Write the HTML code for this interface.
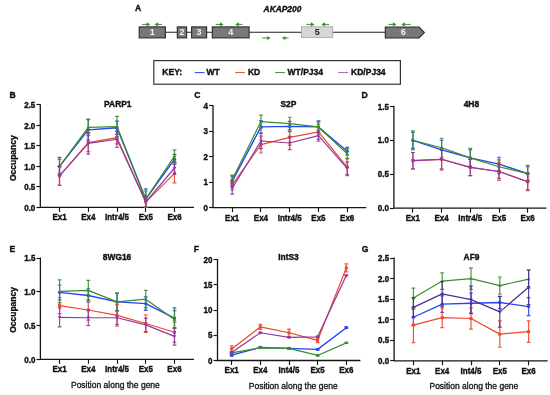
<!DOCTYPE html>
<html><head><meta charset="utf-8"><style>
html,body{margin:0;padding:0;background:#fff;}
svg{display:block;font-family:"Liberation Sans", sans-serif;will-change:transform;}
</style></head><body>
<svg width="550" height="395" viewBox="0 0 550 395">
<rect width="550" height="395" fill="#fff"/>
<text x="135.00" y="10.90" font-size="8.6" font-weight="bold" text-anchor="start" fill="#111" stroke="#111" stroke-width="0.36"  >A</text>
<text x="263.60" y="11.70" font-size="8.4" font-weight="bold" text-anchor="start" fill="#111" stroke="#111" stroke-width="0.36" font-style="italic" >AKAP200</text>
<line x1="165" y1="32.3" x2="386" y2="32.3" stroke="#222" stroke-width="1.1"/>
<rect x="139.20" y="26.9" width="26.20" height="11.0" fill="#787878" stroke="#2a2a2a" stroke-width="1.1"/>
<text x="152.30" y="35.20" font-size="9.0" font-weight="bold" text-anchor="middle" fill="#f4f4f4"   >1</text>
<rect x="177.30" y="26.9" width="9.30" height="11.0" fill="#787878" stroke="#2a2a2a" stroke-width="1.1"/>
<text x="181.95" y="35.20" font-size="9.0" font-weight="bold" text-anchor="middle" fill="#f4f4f4"   >2</text>
<rect x="191.60" y="26.9" width="15.00" height="11.0" fill="#787878" stroke="#2a2a2a" stroke-width="1.1"/>
<text x="199.10" y="35.20" font-size="9.0" font-weight="bold" text-anchor="middle" fill="#f4f4f4"   >3</text>
<rect x="212.30" y="26.9" width="36.80" height="11.0" fill="#787878" stroke="#2a2a2a" stroke-width="1.1"/>
<text x="230.70" y="35.20" font-size="9.0" font-weight="bold" text-anchor="middle" fill="#f4f4f4"   >4</text>
<rect x="301.5" y="26.8" width="31.2" height="10.6" fill="#d6d6d6" stroke="#a8a8a8" stroke-width="0.9"/>
<text x="317.20" y="35.10" font-size="9.0" font-weight="bold" text-anchor="middle" fill="#222"   >5</text>
<path d="M385.3 27.0 H419.0 L424.4 32.5 L419.0 38.0 H385.3 Z" fill="#787878" stroke="#2a2a2a" stroke-width="1.1" stroke-linejoin="miter"/>
<text x="403.30" y="35.20" font-size="9.0" font-weight="bold" text-anchor="middle" fill="#f4f4f4"   >6</text>
<path d="M142.10 24.40 H147.70" stroke="#3b8c2f" stroke-width="1.0"/>
<path d="M146.60 22.30 L150.20 24.40 L146.60 26.50 Z" fill="#3b8c2f"/>
<path d="M157.00 24.40 H162.00" stroke="#3b8c2f" stroke-width="1.0"/>
<path d="M158.10 22.30 L154.50 24.40 L158.10 26.50 Z" fill="#3b8c2f"/>
<path d="M215.70 24.40 H221.10" stroke="#3b8c2f" stroke-width="1.0"/>
<path d="M220.00 22.30 L223.60 24.40 L220.00 26.50 Z" fill="#3b8c2f"/>
<path d="M237.70 24.40 H242.50" stroke="#3b8c2f" stroke-width="1.0"/>
<path d="M238.80 22.30 L235.20 24.40 L238.80 26.50 Z" fill="#3b8c2f"/>
<path d="M306.40 24.40 H312.00" stroke="#3b8c2f" stroke-width="1.0"/>
<path d="M310.90 22.30 L314.50 24.40 L310.90 26.50 Z" fill="#3b8c2f"/>
<path d="M323.90 24.40 H329.10" stroke="#3b8c2f" stroke-width="1.0"/>
<path d="M325.00 22.30 L321.40 24.40 L325.00 26.50 Z" fill="#3b8c2f"/>
<path d="M388.50 24.40 H394.00" stroke="#3b8c2f" stroke-width="1.0"/>
<path d="M392.90 22.30 L396.50 24.40 L392.90 26.50 Z" fill="#3b8c2f"/>
<path d="M403.70 24.40 H410.70" stroke="#3b8c2f" stroke-width="1.0"/>
<path d="M404.80 22.30 L401.20 24.40 L404.80 26.50 Z" fill="#3b8c2f"/>
<path d="M262.30 38.00 H268.20" stroke="#3b8c2f" stroke-width="1.0"/>
<path d="M267.10 35.90 L270.70 38.00 L267.10 40.10 Z" fill="#3b8c2f"/>
<path d="M284.30 38.00 H288.60" stroke="#3b8c2f" stroke-width="1.0"/>
<path d="M285.40 35.90 L281.80 38.00 L285.40 40.10 Z" fill="#3b8c2f"/>
<rect x="153.8" y="60.6" width="246.6" height="23.6" fill="none" stroke="#333" stroke-width="1.2"/>
<text x="162.30" y="75.40" font-size="8.6" font-weight="bold" text-anchor="start" fill="#111" stroke="#111" stroke-width="0.36"  >KEY:</text>
<line x1="194.8" y1="72.6" x2="204.5" y2="72.6" stroke="#2447ee" stroke-width="1.0"/>
<text x="206.60" y="75.40" font-size="8.5" font-weight="bold" text-anchor="start" fill="#111" stroke="#111" stroke-width="0.36"  >WT</text>
<line x1="235.2" y1="72.6" x2="244.9" y2="72.6" stroke="#f0452c" stroke-width="1.0"/>
<text x="247.90" y="75.40" font-size="8.5" font-weight="bold" text-anchor="start" fill="#111" stroke="#111" stroke-width="0.36"  >KD</text>
<line x1="275.2" y1="72.6" x2="284.9" y2="72.6" stroke="#3b8c2f" stroke-width="1.0"/>
<text x="287.60" y="75.40" font-size="8.5" font-weight="bold" text-anchor="start" fill="#111" stroke="#111" stroke-width="0.36"  >WT/PJ34</text>
<line x1="338.2" y1="72.6" x2="348.1" y2="72.6" stroke="#a460c0" stroke-width="1.0"/>
<text x="351.10" y="75.40" font-size="8.5" font-weight="bold" text-anchor="start" fill="#111" stroke="#111" stroke-width="0.36"  >KD/PJ34</text>
<text x="9.60" y="98.00" font-size="8.6" font-weight="bold" text-anchor="start" fill="#111" stroke="#111" stroke-width="0.36"  >B</text>
<text transform="translate(117.80 107.40) scale(1 1.08)" font-size="8.4" font-weight="bold" text-anchor="middle" fill="#111" stroke="#111" stroke-width="0.36"  >PARP1</text>
<path d="M40.30 104.25 V207.40 H194.00" fill="none" stroke="#151515" stroke-width="1.3"/>
<line x1="36.40" y1="207.50" x2="40.30" y2="207.50" stroke="#151515" stroke-width="1.15"/>
<text transform="translate(35.30 210.60) scale(1 1.1)" font-size="8.0" font-weight="bold" text-anchor="end" fill="#111" stroke="#111" stroke-width="0.36"  >0.0</text>
<line x1="36.40" y1="186.50" x2="40.30" y2="186.50" stroke="#151515" stroke-width="1.15"/>
<text transform="translate(35.30 190.08) scale(1 1.1)" font-size="8.0" font-weight="bold" text-anchor="end" fill="#111" stroke="#111" stroke-width="0.36"  >0.5</text>
<line x1="36.40" y1="166.50" x2="40.30" y2="166.50" stroke="#151515" stroke-width="1.15"/>
<text transform="translate(35.30 169.56) scale(1 1.1)" font-size="8.0" font-weight="bold" text-anchor="end" fill="#111" stroke="#111" stroke-width="0.36"  >1.0</text>
<line x1="36.40" y1="145.50" x2="40.30" y2="145.50" stroke="#151515" stroke-width="1.15"/>
<text transform="translate(35.30 149.04) scale(1 1.1)" font-size="8.0" font-weight="bold" text-anchor="end" fill="#111" stroke="#111" stroke-width="0.36"  >1.5</text>
<line x1="36.40" y1="125.50" x2="40.30" y2="125.50" stroke="#151515" stroke-width="1.15"/>
<text transform="translate(35.30 128.52) scale(1 1.1)" font-size="8.0" font-weight="bold" text-anchor="end" fill="#111" stroke="#111" stroke-width="0.36"  >2.0</text>
<line x1="36.40" y1="104.50" x2="40.30" y2="104.50" stroke="#151515" stroke-width="1.15"/>
<text transform="translate(35.30 108.00) scale(1 1.1)" font-size="8.0" font-weight="bold" text-anchor="end" fill="#111" stroke="#111" stroke-width="0.36"  >2.5</text>
<line x1="59.50" y1="207.40" x2="59.50" y2="211.90" stroke="#151515" stroke-width="1.15"/>
<text transform="translate(59.50 220.30) scale(1 1.1)" font-size="8.0" font-weight="bold" text-anchor="middle" fill="#111" stroke="#111" stroke-width="0.36"  >Ex1</text>
<line x1="88.50" y1="207.40" x2="88.50" y2="211.90" stroke="#151515" stroke-width="1.15"/>
<text transform="translate(88.25 220.30) scale(1 1.1)" font-size="8.0" font-weight="bold" text-anchor="middle" fill="#111" stroke="#111" stroke-width="0.36"  >Ex4</text>
<line x1="117.50" y1="207.40" x2="117.50" y2="211.90" stroke="#151515" stroke-width="1.15"/>
<text transform="translate(117.00 220.30) scale(1 1.1)" font-size="8.0" font-weight="bold" text-anchor="middle" fill="#111" stroke="#111" stroke-width="0.36"  >Intr4/5</text>
<line x1="145.50" y1="207.40" x2="145.50" y2="211.90" stroke="#151515" stroke-width="1.15"/>
<text transform="translate(145.75 220.30) scale(1 1.1)" font-size="8.0" font-weight="bold" text-anchor="middle" fill="#111" stroke="#111" stroke-width="0.36"  >Ex5</text>
<line x1="174.50" y1="207.40" x2="174.50" y2="211.90" stroke="#151515" stroke-width="1.15"/>
<text transform="translate(174.50 220.30) scale(1 1.1)" font-size="8.0" font-weight="bold" text-anchor="middle" fill="#111" stroke="#111" stroke-width="0.36"  >Ex6</text>
<text transform="translate(16.2 158.20) rotate(-90)" font-size="8.5" font-weight="bold" text-anchor="middle" fill="#111" stroke="#111" stroke-width="0.3">Occupancy</text>
<path d="M59.50 157.33 V175.39 M57.60 157.33 H61.40 M57.60 175.39 H61.40" stroke="#2447ee" stroke-width="1.2" fill="none" opacity="0.9"/>
<path d="M88.25 119.57 V140.09 M86.35 119.57 H90.15 M86.35 140.09 H90.15" stroke="#2447ee" stroke-width="1.2" fill="none" opacity="0.9"/>
<path d="M117.00 121.22 V134.35 M115.10 121.22 H118.90 M115.10 134.35 H118.90" stroke="#2447ee" stroke-width="1.2" fill="none" opacity="0.9"/>
<path d="M145.75 188.93 V207.40 M143.85 188.93 H147.65 M143.85 207.40 H147.65" stroke="#2447ee" stroke-width="1.2" fill="none" opacity="0.9"/>
<path d="M174.50 154.46 V164.31 M172.60 154.46 H176.40 M172.60 164.31 H176.40" stroke="#2447ee" stroke-width="1.2" fill="none" opacity="0.9"/>
<polyline points="59.50,166.36 88.25,129.83 117.00,127.78 145.75,199.19 174.50,159.38" fill="none" stroke="#2447ee" stroke-width="1.35" stroke-linejoin="round"/>
<circle cx="59.50" cy="166.36" r="1.65" fill="#2447ee"/>
<circle cx="88.25" cy="129.83" r="1.65" fill="#2447ee"/>
<circle cx="117.00" cy="127.78" r="1.65" fill="#2447ee"/>
<circle cx="145.75" cy="199.19" r="1.65" fill="#2447ee"/>
<circle cx="174.50" cy="159.38" r="1.65" fill="#2447ee"/>
<path d="M59.50 166.36 V185.24 M57.60 166.36 H61.40 M57.60 185.24 H61.40" stroke="#f0452c" stroke-width="1.2" fill="none" opacity="0.9"/>
<path d="M88.25 133.53 V151.59 M86.35 133.53 H90.15 M86.35 151.59 H90.15" stroke="#f0452c" stroke-width="1.2" fill="none" opacity="0.9"/>
<path d="M117.00 131.48 V143.79 M115.10 131.48 H118.90 M115.10 143.79 H118.90" stroke="#f0452c" stroke-width="1.2" fill="none" opacity="0.9"/>
<path d="M145.75 195.91 V207.40 M143.85 195.91 H147.65 M143.85 207.40 H147.65" stroke="#f0452c" stroke-width="1.2" fill="none" opacity="0.9"/>
<path d="M174.50 163.90 V182.78 M172.60 163.90 H176.40 M172.60 182.78 H176.40" stroke="#f0452c" stroke-width="1.2" fill="none" opacity="0.9"/>
<polyline points="59.50,175.80 88.25,142.56 117.00,137.63 145.75,202.06 174.50,173.34" fill="none" stroke="#f0452c" stroke-width="1.2" stroke-linejoin="round"/>
<rect x="58.00" y="174.30" width="3" height="3" fill="#f0452c"/>
<rect x="86.75" y="141.06" width="3" height="3" fill="#f0452c"/>
<rect x="115.50" y="136.13" width="3" height="3" fill="#f0452c"/>
<rect x="144.25" y="200.56" width="3" height="3" fill="#f0452c"/>
<rect x="173.00" y="171.84" width="3" height="3" fill="#f0452c"/>
<path d="M59.50 159.38 V173.34 M57.60 159.38 H61.40 M57.60 173.34 H61.40" stroke="#3b8c2f" stroke-width="1.2" fill="none" opacity="0.9"/>
<path d="M88.25 119.16 V135.58 M86.35 119.16 H90.15 M86.35 135.58 H90.15" stroke="#3b8c2f" stroke-width="1.2" fill="none" opacity="0.9"/>
<path d="M117.00 116.29 V136.81 M115.10 116.29 H118.90 M115.10 136.81 H118.90" stroke="#3b8c2f" stroke-width="1.2" fill="none" opacity="0.9"/>
<path d="M145.75 190.98 V207.40 M143.85 190.98 H147.65 M143.85 207.40 H147.65" stroke="#3b8c2f" stroke-width="1.2" fill="none" opacity="0.9"/>
<path d="M174.50 149.94 V162.26 M172.60 149.94 H176.40 M172.60 162.26 H176.40" stroke="#3b8c2f" stroke-width="1.2" fill="none" opacity="0.9"/>
<polyline points="59.50,166.36 88.25,127.37 117.00,126.55 145.75,199.19 174.50,156.10" fill="none" stroke="#3b8c2f" stroke-width="1.2" stroke-linejoin="round"/>
<path d="M59.50 164.46 L61.30 167.56 L57.70 167.56 Z" fill="#3b8c2f"/>
<path d="M88.25 125.47 L90.05 128.57 L86.45 128.57 Z" fill="#3b8c2f"/>
<path d="M117.00 124.65 L118.80 127.75 L115.20 127.75 Z" fill="#3b8c2f"/>
<path d="M145.75 197.29 L147.55 200.39 L143.95 200.39 Z" fill="#3b8c2f"/>
<path d="M174.50 154.20 L176.30 157.30 L172.70 157.30 Z" fill="#3b8c2f"/>
<path d="M59.50 166.36 V185.24 M57.60 166.36 H61.40 M57.60 185.24 H61.40" stroke="#8d3aa3" stroke-width="1.2" fill="none" opacity="0.9"/>
<path d="M88.25 132.71 V154.05 M86.35 132.71 H90.15 M86.35 154.05 H90.15" stroke="#8d3aa3" stroke-width="1.2" fill="none" opacity="0.9"/>
<path d="M117.00 131.07 V147.48 M115.10 131.07 H118.90 M115.10 147.48 H118.90" stroke="#8d3aa3" stroke-width="1.2" fill="none" opacity="0.9"/>
<path d="M145.75 196.73 V207.40 M143.85 196.73 H147.65 M143.85 207.40 H147.65" stroke="#8d3aa3" stroke-width="1.2" fill="none" opacity="0.9"/>
<path d="M174.50 161.85 V174.16 M172.60 161.85 H176.40 M172.60 174.16 H176.40" stroke="#8d3aa3" stroke-width="1.2" fill="none" opacity="0.9"/>
<polyline points="59.50,175.80 88.25,143.38 117.00,139.27 145.75,202.06 174.50,168.00" fill="none" stroke="#8d3aa3" stroke-width="1.2" stroke-linejoin="round"/>
<path d="M59.50 177.70 L61.30 174.60 L57.70 174.60 Z" fill="#8d3aa3"/>
<path d="M88.25 145.28 L90.05 142.18 L86.45 142.18 Z" fill="#8d3aa3"/>
<path d="M117.00 141.17 L118.80 138.07 L115.20 138.07 Z" fill="#8d3aa3"/>
<path d="M145.75 203.96 L147.55 200.86 L143.95 200.86 Z" fill="#8d3aa3"/>
<path d="M174.50 169.90 L176.30 166.80 L172.70 166.80 Z" fill="#8d3aa3"/>
<text x="194.20" y="98.00" font-size="8.6" font-weight="bold" text-anchor="start" fill="#111" stroke="#111" stroke-width="0.36"  >C</text>
<text transform="translate(288.40 107.40) scale(1 1.08)" font-size="8.4" font-weight="bold" text-anchor="middle" fill="#111" stroke="#111" stroke-width="0.36"  >S2P</text>
<path d="M213.00 104.95 V207.60 H366.30" fill="none" stroke="#151515" stroke-width="1.3"/>
<line x1="209.10" y1="207.50" x2="213.00" y2="207.50" stroke="#151515" stroke-width="1.15"/>
<text transform="translate(208.00 210.80) scale(1 1.1)" font-size="8.0" font-weight="bold" text-anchor="end" fill="#111" stroke="#111" stroke-width="0.36"  >0</text>
<line x1="209.10" y1="182.50" x2="213.00" y2="182.50" stroke="#151515" stroke-width="1.15"/>
<text transform="translate(208.00 185.27) scale(1 1.1)" font-size="8.0" font-weight="bold" text-anchor="end" fill="#111" stroke="#111" stroke-width="0.36"  >1</text>
<line x1="209.10" y1="156.50" x2="213.00" y2="156.50" stroke="#151515" stroke-width="1.15"/>
<text transform="translate(208.00 159.75) scale(1 1.1)" font-size="8.0" font-weight="bold" text-anchor="end" fill="#111" stroke="#111" stroke-width="0.36"  >2</text>
<line x1="209.10" y1="131.50" x2="213.00" y2="131.50" stroke="#151515" stroke-width="1.15"/>
<text transform="translate(208.00 134.22) scale(1 1.1)" font-size="8.0" font-weight="bold" text-anchor="end" fill="#111" stroke="#111" stroke-width="0.36"  >3</text>
<line x1="209.10" y1="105.50" x2="213.00" y2="105.50" stroke="#151515" stroke-width="1.15"/>
<text transform="translate(208.00 108.70) scale(1 1.1)" font-size="8.0" font-weight="bold" text-anchor="end" fill="#111" stroke="#111" stroke-width="0.36"  >4</text>
<line x1="232.50" y1="207.60" x2="232.50" y2="212.10" stroke="#151515" stroke-width="1.15"/>
<text transform="translate(232.20 220.50) scale(1 1.1)" font-size="8.0" font-weight="bold" text-anchor="middle" fill="#111" stroke="#111" stroke-width="0.36"  >Ex1</text>
<line x1="260.50" y1="207.60" x2="260.50" y2="212.10" stroke="#151515" stroke-width="1.15"/>
<text transform="translate(260.95 220.50) scale(1 1.1)" font-size="8.0" font-weight="bold" text-anchor="middle" fill="#111" stroke="#111" stroke-width="0.36"  >Ex4</text>
<line x1="289.50" y1="207.60" x2="289.50" y2="212.10" stroke="#151515" stroke-width="1.15"/>
<text transform="translate(289.70 220.50) scale(1 1.1)" font-size="8.0" font-weight="bold" text-anchor="middle" fill="#111" stroke="#111" stroke-width="0.36"  >Intr4/5</text>
<line x1="318.50" y1="207.60" x2="318.50" y2="212.10" stroke="#151515" stroke-width="1.15"/>
<text transform="translate(318.45 220.50) scale(1 1.1)" font-size="8.0" font-weight="bold" text-anchor="middle" fill="#111" stroke="#111" stroke-width="0.36"  >Ex5</text>
<line x1="347.50" y1="207.60" x2="347.50" y2="212.10" stroke="#151515" stroke-width="1.15"/>
<text transform="translate(347.20 220.50) scale(1 1.1)" font-size="8.0" font-weight="bold" text-anchor="middle" fill="#111" stroke="#111" stroke-width="0.36"  >Ex6</text>
<path d="M232.20 176.20 V186.41 M230.30 176.20 H234.10 M230.30 186.41 H234.10" stroke="#2447ee" stroke-width="1.2" fill="none" opacity="0.9"/>
<path d="M260.95 120.56 V133.32 M259.05 120.56 H262.85 M259.05 133.32 H262.85" stroke="#2447ee" stroke-width="1.2" fill="none" opacity="0.9"/>
<path d="M289.70 121.33 V131.54 M287.80 121.33 H291.60 M287.80 131.54 H291.60" stroke="#2447ee" stroke-width="1.2" fill="none" opacity="0.9"/>
<path d="M318.45 120.81 V133.07 M316.55 120.81 H320.35 M316.55 133.07 H320.35" stroke="#2447ee" stroke-width="1.2" fill="none" opacity="0.9"/>
<path d="M347.20 147.36 V155.02 M345.30 147.36 H349.10 M345.30 155.02 H349.10" stroke="#2447ee" stroke-width="1.2" fill="none" opacity="0.9"/>
<polyline points="232.20,181.31 260.95,126.94 289.70,126.43 318.45,126.94 347.20,151.19" fill="none" stroke="#2447ee" stroke-width="1.35" stroke-linejoin="round"/>
<circle cx="232.20" cy="181.31" r="1.65" fill="#2447ee"/>
<circle cx="260.95" cy="126.94" r="1.65" fill="#2447ee"/>
<circle cx="289.70" cy="126.43" r="1.65" fill="#2447ee"/>
<circle cx="318.45" cy="126.94" r="1.65" fill="#2447ee"/>
<circle cx="347.20" cy="151.19" r="1.65" fill="#2447ee"/>
<path d="M232.20 179.78 V189.99 M230.30 179.78 H234.10 M230.30 189.99 H234.10" stroke="#f0452c" stroke-width="1.2" fill="none" opacity="0.9"/>
<path d="M260.95 136.13 V152.98 M259.05 136.13 H262.85 M259.05 152.98 H262.85" stroke="#f0452c" stroke-width="1.2" fill="none" opacity="0.9"/>
<path d="M289.70 129.75 V145.06 M287.80 129.75 H291.60 M287.80 145.06 H291.60" stroke="#f0452c" stroke-width="1.2" fill="none" opacity="0.9"/>
<path d="M318.45 124.13 V139.45 M316.55 124.13 H320.35 M316.55 139.45 H320.35" stroke="#f0452c" stroke-width="1.2" fill="none" opacity="0.9"/>
<path d="M347.20 158.34 V175.69 M345.30 158.34 H349.10 M345.30 175.69 H349.10" stroke="#f0452c" stroke-width="1.2" fill="none" opacity="0.9"/>
<polyline points="232.20,184.88 260.95,144.55 289.70,137.41 318.45,131.79 347.20,167.02" fill="none" stroke="#f0452c" stroke-width="1.2" stroke-linejoin="round"/>
<rect x="230.70" y="183.38" width="3" height="3" fill="#f0452c"/>
<rect x="259.45" y="143.05" width="3" height="3" fill="#f0452c"/>
<rect x="288.20" y="135.91" width="3" height="3" fill="#f0452c"/>
<rect x="316.95" y="130.29" width="3" height="3" fill="#f0452c"/>
<rect x="345.70" y="165.52" width="3" height="3" fill="#f0452c"/>
<path d="M232.20 175.18 V183.86 M230.30 175.18 H234.10 M230.30 183.86 H234.10" stroke="#3b8c2f" stroke-width="1.2" fill="none" opacity="0.9"/>
<path d="M260.95 115.20 V127.96 M259.05 115.20 H262.85 M259.05 127.96 H262.85" stroke="#3b8c2f" stroke-width="1.2" fill="none" opacity="0.9"/>
<path d="M289.70 117.24 V130.00 M287.80 117.24 H291.60 M287.80 130.00 H291.60" stroke="#3b8c2f" stroke-width="1.2" fill="none" opacity="0.9"/>
<path d="M318.45 121.84 V132.05 M316.55 121.84 H320.35 M316.55 132.05 H320.35" stroke="#3b8c2f" stroke-width="1.2" fill="none" opacity="0.9"/>
<path d="M347.20 148.64 V158.85 M345.30 148.64 H349.10 M345.30 158.85 H349.10" stroke="#3b8c2f" stroke-width="1.2" fill="none" opacity="0.9"/>
<polyline points="232.20,179.52 260.95,121.58 289.70,123.62 318.45,126.94 347.20,153.74" fill="none" stroke="#3b8c2f" stroke-width="1.2" stroke-linejoin="round"/>
<path d="M232.20 177.62 L234.00 180.72 L230.40 180.72 Z" fill="#3b8c2f"/>
<path d="M260.95 119.68 L262.75 122.78 L259.15 122.78 Z" fill="#3b8c2f"/>
<path d="M289.70 121.72 L291.50 124.82 L287.90 124.82 Z" fill="#3b8c2f"/>
<path d="M318.45 125.04 L320.25 128.14 L316.65 128.14 Z" fill="#3b8c2f"/>
<path d="M347.20 151.84 L349.00 154.94 L345.40 154.94 Z" fill="#3b8c2f"/>
<path d="M232.20 182.84 V194.07 M230.30 182.84 H234.10 M230.30 194.07 H234.10" stroke="#8d3aa3" stroke-width="1.2" fill="none" opacity="0.9"/>
<path d="M260.95 133.32 V148.64 M259.05 133.32 H262.85 M259.05 148.64 H262.85" stroke="#8d3aa3" stroke-width="1.2" fill="none" opacity="0.9"/>
<path d="M289.70 136.39 V149.66 M287.80 136.39 H291.60 M287.80 149.66 H291.60" stroke="#8d3aa3" stroke-width="1.2" fill="none" opacity="0.9"/>
<path d="M318.45 130.00 V141.24 M316.55 130.00 H320.35 M316.55 141.24 H320.35" stroke="#8d3aa3" stroke-width="1.2" fill="none" opacity="0.9"/>
<path d="M347.20 161.91 V174.67 M345.30 161.91 H349.10 M345.30 174.67 H349.10" stroke="#8d3aa3" stroke-width="1.2" fill="none" opacity="0.9"/>
<polyline points="232.20,188.46 260.95,140.98 289.70,143.02 318.45,135.62 347.20,168.29" fill="none" stroke="#8d3aa3" stroke-width="1.2" stroke-linejoin="round"/>
<path d="M232.20 190.36 L234.00 187.26 L230.40 187.26 Z" fill="#8d3aa3"/>
<path d="M260.95 142.88 L262.75 139.78 L259.15 139.78 Z" fill="#8d3aa3"/>
<path d="M289.70 144.92 L291.50 141.82 L287.90 141.82 Z" fill="#8d3aa3"/>
<path d="M318.45 137.52 L320.25 134.42 L316.65 134.42 Z" fill="#8d3aa3"/>
<path d="M347.20 170.19 L349.00 167.09 L345.40 167.09 Z" fill="#8d3aa3"/>
<text x="361.60" y="98.00" font-size="8.6" font-weight="bold" text-anchor="start" fill="#111" stroke="#111" stroke-width="0.36"  >D</text>
<text transform="translate(471.40 107.40) scale(1 1.08)" font-size="8.4" font-weight="bold" text-anchor="middle" fill="#111" stroke="#111" stroke-width="0.36"  >4H8</text>
<path d="M393.90 105.75 V208.20 H546.40" fill="none" stroke="#151515" stroke-width="1.3"/>
<line x1="390.00" y1="208.50" x2="393.90" y2="208.50" stroke="#151515" stroke-width="1.15"/>
<text transform="translate(388.90 211.40) scale(1 1.1)" font-size="8.0" font-weight="bold" text-anchor="end" fill="#111" stroke="#111" stroke-width="0.36"  >0.0</text>
<line x1="390.00" y1="174.50" x2="393.90" y2="174.50" stroke="#151515" stroke-width="1.15"/>
<text transform="translate(388.90 177.43) scale(1 1.1)" font-size="8.0" font-weight="bold" text-anchor="end" fill="#111" stroke="#111" stroke-width="0.36"  >0.5</text>
<line x1="390.00" y1="140.50" x2="393.90" y2="140.50" stroke="#151515" stroke-width="1.15"/>
<text transform="translate(388.90 143.47) scale(1 1.1)" font-size="8.0" font-weight="bold" text-anchor="end" fill="#111" stroke="#111" stroke-width="0.36"  >1.0</text>
<line x1="390.00" y1="106.50" x2="393.90" y2="106.50" stroke="#151515" stroke-width="1.15"/>
<text transform="translate(388.90 109.50) scale(1 1.1)" font-size="8.0" font-weight="bold" text-anchor="end" fill="#111" stroke="#111" stroke-width="0.36"  >1.5</text>
<line x1="412.50" y1="208.20" x2="412.50" y2="212.70" stroke="#151515" stroke-width="1.15"/>
<text transform="translate(412.90 221.10) scale(1 1.1)" font-size="8.0" font-weight="bold" text-anchor="middle" fill="#111" stroke="#111" stroke-width="0.36"  >Ex1</text>
<line x1="441.50" y1="208.20" x2="441.50" y2="212.70" stroke="#151515" stroke-width="1.15"/>
<text transform="translate(441.60 221.10) scale(1 1.1)" font-size="8.0" font-weight="bold" text-anchor="middle" fill="#111" stroke="#111" stroke-width="0.36"  >Ex4</text>
<line x1="470.50" y1="208.20" x2="470.50" y2="212.70" stroke="#151515" stroke-width="1.15"/>
<text transform="translate(470.30 221.10) scale(1 1.1)" font-size="8.0" font-weight="bold" text-anchor="middle" fill="#111" stroke="#111" stroke-width="0.36"  >Intr4/5</text>
<line x1="499.50" y1="208.20" x2="499.50" y2="212.70" stroke="#151515" stroke-width="1.15"/>
<text transform="translate(499.00 221.10) scale(1 1.1)" font-size="8.0" font-weight="bold" text-anchor="middle" fill="#111" stroke="#111" stroke-width="0.36"  >Ex5</text>
<line x1="527.50" y1="208.20" x2="527.50" y2="212.70" stroke="#151515" stroke-width="1.15"/>
<text transform="translate(527.70 221.10) scale(1 1.1)" font-size="8.0" font-weight="bold" text-anchor="middle" fill="#111" stroke="#111" stroke-width="0.36"  >Ex6</text>
<path d="M412.90 132.11 V148.42 M411.00 132.11 H414.80 M411.00 148.42 H414.80" stroke="#2447ee" stroke-width="1.2" fill="none" opacity="0.9"/>
<path d="M441.60 140.27 V159.29 M439.70 140.27 H443.50 M439.70 159.29 H443.50" stroke="#2447ee" stroke-width="1.2" fill="none" opacity="0.9"/>
<path d="M470.30 149.78 V166.08 M468.40 149.78 H472.20 M468.40 166.08 H472.20" stroke="#2447ee" stroke-width="1.2" fill="none" opacity="0.9"/>
<path d="M499.00 157.25 V170.84 M497.10 157.25 H500.90 M497.10 170.84 H500.90" stroke="#2447ee" stroke-width="1.2" fill="none" opacity="0.9"/>
<path d="M527.70 166.76 V180.35 M525.80 166.76 H529.60 M525.80 180.35 H529.60" stroke="#2447ee" stroke-width="1.2" fill="none" opacity="0.9"/>
<polyline points="412.90,140.27 441.60,149.78 470.30,157.93 499.00,164.04 527.70,173.55" fill="none" stroke="#2447ee" stroke-width="1.35" stroke-linejoin="round"/>
<circle cx="412.90" cy="140.27" r="1.65" fill="#2447ee"/>
<circle cx="441.60" cy="149.78" r="1.65" fill="#2447ee"/>
<circle cx="470.30" cy="157.93" r="1.65" fill="#2447ee"/>
<circle cx="499.00" cy="164.04" r="1.65" fill="#2447ee"/>
<circle cx="527.70" cy="173.55" r="1.65" fill="#2447ee"/>
<path d="M412.90 152.49 V168.80 M411.00 152.49 H414.80 M411.00 168.80 H414.80" stroke="#f0452c" stroke-width="1.2" fill="none" opacity="0.9"/>
<path d="M441.60 148.42 V170.16 M439.70 148.42 H443.50 M439.70 170.16 H443.50" stroke="#f0452c" stroke-width="1.2" fill="none" opacity="0.9"/>
<path d="M470.30 159.29 V175.59 M468.40 159.29 H472.20 M468.40 175.59 H472.20" stroke="#f0452c" stroke-width="1.2" fill="none" opacity="0.9"/>
<path d="M499.00 162.68 V180.35 M497.10 162.68 H500.90 M497.10 180.35 H500.90" stroke="#f0452c" stroke-width="1.2" fill="none" opacity="0.9"/>
<path d="M527.70 172.87 V190.54 M525.80 172.87 H529.60 M525.80 190.54 H529.60" stroke="#f0452c" stroke-width="1.2" fill="none" opacity="0.9"/>
<polyline points="412.90,160.65 441.60,159.29 470.30,167.44 499.00,171.52 527.70,181.71" fill="none" stroke="#f0452c" stroke-width="1.2" stroke-linejoin="round"/>
<rect x="411.40" y="159.15" width="3" height="3" fill="#f0452c"/>
<rect x="440.10" y="157.79" width="3" height="3" fill="#f0452c"/>
<rect x="468.80" y="165.94" width="3" height="3" fill="#f0452c"/>
<rect x="497.50" y="170.02" width="3" height="3" fill="#f0452c"/>
<rect x="526.20" y="180.21" width="3" height="3" fill="#f0452c"/>
<path d="M412.90 130.76 V149.78 M411.00 130.76 H414.80 M411.00 149.78 H414.80" stroke="#3b8c2f" stroke-width="1.2" fill="none" opacity="0.9"/>
<path d="M441.60 138.23 V157.25 M439.70 138.23 H443.50 M439.70 157.25 H443.50" stroke="#3b8c2f" stroke-width="1.2" fill="none" opacity="0.9"/>
<path d="M470.30 148.42 V167.44 M468.40 148.42 H472.20 M468.40 167.44 H472.20" stroke="#3b8c2f" stroke-width="1.2" fill="none" opacity="0.9"/>
<path d="M499.00 159.97 V173.55 M497.10 159.97 H500.90 M497.10 173.55 H500.90" stroke="#3b8c2f" stroke-width="1.2" fill="none" opacity="0.9"/>
<path d="M527.70 165.40 V181.71 M525.80 165.40 H529.60 M525.80 181.71 H529.60" stroke="#3b8c2f" stroke-width="1.2" fill="none" opacity="0.9"/>
<polyline points="412.90,140.27 441.60,147.74 470.30,157.93 499.00,166.76 527.70,173.55" fill="none" stroke="#3b8c2f" stroke-width="1.2" stroke-linejoin="round"/>
<path d="M412.90 138.37 L414.70 141.47 L411.10 141.47 Z" fill="#3b8c2f"/>
<path d="M441.60 145.84 L443.40 148.94 L439.80 148.94 Z" fill="#3b8c2f"/>
<path d="M470.30 156.03 L472.10 159.13 L468.50 159.13 Z" fill="#3b8c2f"/>
<path d="M499.00 164.86 L500.80 167.96 L497.20 167.96 Z" fill="#3b8c2f"/>
<path d="M527.70 171.65 L529.50 174.75 L525.90 174.75 Z" fill="#3b8c2f"/>
<path d="M412.90 152.49 V168.80 M411.00 152.49 H414.80 M411.00 168.80 H414.80" stroke="#8d3aa3" stroke-width="1.2" fill="none" opacity="0.9"/>
<path d="M441.60 149.78 V168.80 M439.70 149.78 H443.50 M439.70 168.80 H443.50" stroke="#8d3aa3" stroke-width="1.2" fill="none" opacity="0.9"/>
<path d="M470.30 159.29 V175.59 M468.40 159.29 H472.20 M468.40 175.59 H472.20" stroke="#8d3aa3" stroke-width="1.2" fill="none" opacity="0.9"/>
<path d="M499.00 164.72 V178.31 M497.10 164.72 H500.90 M497.10 178.31 H500.90" stroke="#8d3aa3" stroke-width="1.2" fill="none" opacity="0.9"/>
<path d="M527.70 173.55 V189.86 M525.80 173.55 H529.60 M525.80 189.86 H529.60" stroke="#8d3aa3" stroke-width="1.2" fill="none" opacity="0.9"/>
<polyline points="412.90,160.65 441.60,159.29 470.30,167.44 499.00,171.52 527.70,181.71" fill="none" stroke="#8d3aa3" stroke-width="1.2" stroke-linejoin="round"/>
<path d="M412.90 162.55 L414.70 159.45 L411.10 159.45 Z" fill="#8d3aa3"/>
<path d="M441.60 161.19 L443.40 158.09 L439.80 158.09 Z" fill="#8d3aa3"/>
<path d="M470.30 169.34 L472.10 166.24 L468.50 166.24 Z" fill="#8d3aa3"/>
<path d="M499.00 173.42 L500.80 170.32 L497.20 170.32 Z" fill="#8d3aa3"/>
<path d="M527.70 183.61 L529.50 180.51 L525.90 180.51 Z" fill="#8d3aa3"/>
<text x="9.60" y="251.60" font-size="8.6" font-weight="bold" text-anchor="start" fill="#111" stroke="#111" stroke-width="0.36"  >E</text>
<text transform="translate(117.04 259.60) scale(1 1.08)" font-size="8.4" font-weight="bold" text-anchor="middle" fill="#111" stroke="#111" stroke-width="0.36"  >8WG16</text>
<path d="M40.40 257.45 V359.30 H194.00" fill="none" stroke="#151515" stroke-width="1.3"/>
<line x1="36.50" y1="359.50" x2="40.40" y2="359.50" stroke="#151515" stroke-width="1.15"/>
<text transform="translate(35.40 362.50) scale(1 1.1)" font-size="8.0" font-weight="bold" text-anchor="end" fill="#111" stroke="#111" stroke-width="0.36"  >0.0</text>
<line x1="36.50" y1="325.50" x2="40.40" y2="325.50" stroke="#151515" stroke-width="1.15"/>
<text transform="translate(35.40 328.73) scale(1 1.1)" font-size="8.0" font-weight="bold" text-anchor="end" fill="#111" stroke="#111" stroke-width="0.36"  >0.5</text>
<line x1="36.50" y1="291.50" x2="40.40" y2="291.50" stroke="#151515" stroke-width="1.15"/>
<text transform="translate(35.40 294.97) scale(1 1.1)" font-size="8.0" font-weight="bold" text-anchor="end" fill="#111" stroke="#111" stroke-width="0.36"  >1.0</text>
<line x1="36.50" y1="258.50" x2="40.40" y2="258.50" stroke="#151515" stroke-width="1.15"/>
<text transform="translate(35.40 261.20) scale(1 1.1)" font-size="8.0" font-weight="bold" text-anchor="end" fill="#111" stroke="#111" stroke-width="0.36"  >1.5</text>
<line x1="59.50" y1="359.30" x2="59.50" y2="363.80" stroke="#151515" stroke-width="1.15"/>
<text transform="translate(59.60 372.20) scale(1 1.1)" font-size="8.0" font-weight="bold" text-anchor="middle" fill="#111" stroke="#111" stroke-width="0.36"  >Ex1</text>
<line x1="88.50" y1="359.30" x2="88.50" y2="363.80" stroke="#151515" stroke-width="1.15"/>
<text transform="translate(88.32 372.20) scale(1 1.1)" font-size="8.0" font-weight="bold" text-anchor="middle" fill="#111" stroke="#111" stroke-width="0.36"  >Ex4</text>
<line x1="117.50" y1="359.30" x2="117.50" y2="363.80" stroke="#151515" stroke-width="1.15"/>
<text transform="translate(117.04 372.20) scale(1 1.1)" font-size="8.0" font-weight="bold" text-anchor="middle" fill="#111" stroke="#111" stroke-width="0.36"  >Intr4/5</text>
<line x1="145.50" y1="359.30" x2="145.50" y2="363.80" stroke="#151515" stroke-width="1.15"/>
<text transform="translate(145.76 372.20) scale(1 1.1)" font-size="8.0" font-weight="bold" text-anchor="middle" fill="#111" stroke="#111" stroke-width="0.36"  >Ex5</text>
<line x1="174.50" y1="359.30" x2="174.50" y2="363.80" stroke="#151515" stroke-width="1.15"/>
<text transform="translate(174.48 372.20) scale(1 1.1)" font-size="8.0" font-weight="bold" text-anchor="middle" fill="#111" stroke="#111" stroke-width="0.36"  >Ex6</text>
<text transform="translate(16.2 309.95) rotate(-90)" font-size="8.5" font-weight="bold" text-anchor="middle" fill="#111" stroke="#111" stroke-width="0.3">Occupancy</text>
<text x="115.40" y="387.80" font-size="8.5" font-weight="normal" text-anchor="middle" fill="#111" stroke="#111" stroke-width="0.3"  >Position along the gene</text>
<path d="M59.60 285.01 V299.87 M57.70 285.01 H61.50 M57.70 299.87 H61.50" stroke="#2447ee" stroke-width="1.2" fill="none" opacity="0.9"/>
<path d="M88.32 288.73 V302.23 M86.42 288.73 H90.22 M86.42 302.23 H90.22" stroke="#2447ee" stroke-width="1.2" fill="none" opacity="0.9"/>
<path d="M117.04 293.12 V310.68 M115.14 293.12 H118.94 M115.14 310.68 H118.94" stroke="#2447ee" stroke-width="1.2" fill="none" opacity="0.9"/>
<path d="M145.76 296.83 V310.34 M143.86 296.83 H147.66 M143.86 310.34 H147.66" stroke="#2447ee" stroke-width="1.2" fill="none" opacity="0.9"/>
<path d="M174.48 307.97 V328.23 M172.58 307.97 H176.38 M172.58 328.23 H176.38" stroke="#2447ee" stroke-width="1.2" fill="none" opacity="0.9"/>
<polyline points="59.60,292.44 88.32,295.48 117.04,301.90 145.76,303.58 174.48,318.10" fill="none" stroke="#2447ee" stroke-width="1.35" stroke-linejoin="round"/>
<circle cx="59.60" cy="292.44" r="1.65" fill="#2447ee"/>
<circle cx="88.32" cy="295.48" r="1.65" fill="#2447ee"/>
<circle cx="117.04" cy="301.90" r="1.65" fill="#2447ee"/>
<circle cx="145.76" cy="303.58" r="1.65" fill="#2447ee"/>
<circle cx="174.48" cy="318.10" r="1.65" fill="#2447ee"/>
<path d="M59.60 297.51 V313.72 M57.70 297.51 H61.50 M57.70 313.72 H61.50" stroke="#f0452c" stroke-width="1.2" fill="none" opacity="0.9"/>
<path d="M88.32 299.87 V320.13 M86.42 299.87 H90.22 M86.42 320.13 H90.22" stroke="#f0452c" stroke-width="1.2" fill="none" opacity="0.9"/>
<path d="M117.04 304.60 V326.21 M115.14 304.60 H118.94 M115.14 326.21 H118.94" stroke="#f0452c" stroke-width="1.2" fill="none" opacity="0.9"/>
<path d="M145.76 314.73 V332.29 M143.86 314.73 H147.66 M143.86 332.29 H147.66" stroke="#f0452c" stroke-width="1.2" fill="none" opacity="0.9"/>
<path d="M174.48 322.16 V342.42 M172.58 322.16 H176.38 M172.58 342.42 H176.38" stroke="#f0452c" stroke-width="1.2" fill="none" opacity="0.9"/>
<polyline points="59.60,305.61 88.32,310.00 117.04,315.40 145.76,323.51 174.48,332.29" fill="none" stroke="#f0452c" stroke-width="1.2" stroke-linejoin="round"/>
<rect x="58.10" y="304.11" width="3" height="3" fill="#f0452c"/>
<rect x="86.82" y="308.50" width="3" height="3" fill="#f0452c"/>
<rect x="115.54" y="313.90" width="3" height="3" fill="#f0452c"/>
<rect x="144.26" y="322.01" width="3" height="3" fill="#f0452c"/>
<rect x="172.98" y="330.79" width="3" height="3" fill="#f0452c"/>
<path d="M59.60 279.88 V302.84 M57.70 279.88 H61.50 M57.70 302.84 H61.50" stroke="#3b8c2f" stroke-width="1.2" fill="none" opacity="0.9"/>
<path d="M88.32 280.29 V300.55 M86.42 280.29 H90.22 M86.42 300.55 H90.22" stroke="#3b8c2f" stroke-width="1.2" fill="none" opacity="0.9"/>
<path d="M117.04 293.12 V310.68 M115.14 293.12 H118.94 M115.14 310.68 H118.94" stroke="#3b8c2f" stroke-width="1.2" fill="none" opacity="0.9"/>
<path d="M145.76 290.42 V307.97 M143.86 290.42 H147.66 M143.86 307.97 H147.66" stroke="#3b8c2f" stroke-width="1.2" fill="none" opacity="0.9"/>
<path d="M174.48 310.68 V328.23 M172.58 310.68 H176.38 M172.58 328.23 H176.38" stroke="#3b8c2f" stroke-width="1.2" fill="none" opacity="0.9"/>
<polyline points="59.60,291.36 88.32,290.42 117.04,301.90 145.76,299.20 174.48,319.46" fill="none" stroke="#3b8c2f" stroke-width="1.2" stroke-linejoin="round"/>
<path d="M59.60 289.46 L61.40 292.56 L57.80 292.56 Z" fill="#3b8c2f"/>
<path d="M88.32 288.52 L90.12 291.62 L86.52 291.62 Z" fill="#3b8c2f"/>
<path d="M117.04 300.00 L118.84 303.10 L115.24 303.10 Z" fill="#3b8c2f"/>
<path d="M145.76 297.30 L147.56 300.40 L143.96 300.40 Z" fill="#3b8c2f"/>
<path d="M174.48 317.56 L176.28 320.66 L172.68 320.66 Z" fill="#3b8c2f"/>
<path d="M59.60 307.97 V326.88 M57.70 307.97 H61.50 M57.70 326.88 H61.50" stroke="#8d3aa3" stroke-width="1.2" fill="none" opacity="0.9"/>
<path d="M88.32 310.00 V325.53 M86.42 310.00 H90.22 M86.42 325.53 H90.22" stroke="#8d3aa3" stroke-width="1.2" fill="none" opacity="0.9"/>
<path d="M117.04 311.01 V324.52 M115.14 311.01 H118.94 M115.14 324.52 H118.94" stroke="#8d3aa3" stroke-width="1.2" fill="none" opacity="0.9"/>
<path d="M145.76 318.10 V331.61 M143.86 318.10 H147.66 M143.86 331.61 H147.66" stroke="#8d3aa3" stroke-width="1.2" fill="none" opacity="0.9"/>
<path d="M174.48 327.56 V345.12 M172.58 327.56 H176.38 M172.58 345.12 H176.38" stroke="#8d3aa3" stroke-width="1.2" fill="none" opacity="0.9"/>
<polyline points="59.60,317.43 88.32,317.77 117.04,317.77 145.76,324.86 174.48,336.34" fill="none" stroke="#8d3aa3" stroke-width="1.2" stroke-linejoin="round"/>
<path d="M59.60 319.33 L61.40 316.23 L57.80 316.23 Z" fill="#8d3aa3"/>
<path d="M88.32 319.67 L90.12 316.57 L86.52 316.57 Z" fill="#8d3aa3"/>
<path d="M117.04 319.67 L118.84 316.57 L115.24 316.57 Z" fill="#8d3aa3"/>
<path d="M145.76 326.76 L147.56 323.66 L143.96 323.66 Z" fill="#8d3aa3"/>
<path d="M174.48 338.24 L176.28 335.14 L172.68 335.14 Z" fill="#8d3aa3"/>
<text x="193.80" y="251.60" font-size="8.6" font-weight="bold" text-anchor="start" fill="#111" stroke="#111" stroke-width="0.36"  >F</text>
<text transform="translate(288.50 259.60) scale(1 1.08)" font-size="8.4" font-weight="bold" text-anchor="middle" fill="#111" stroke="#111" stroke-width="0.36"  >IntS3</text>
<path d="M217.50 259.05 V360.50 H360.40" fill="none" stroke="#151515" stroke-width="1.3"/>
<line x1="213.60" y1="360.50" x2="217.50" y2="360.50" stroke="#151515" stroke-width="1.15"/>
<text transform="translate(212.50 363.70) scale(1 1.1)" font-size="8.0" font-weight="bold" text-anchor="end" fill="#111" stroke="#111" stroke-width="0.36"  >0</text>
<line x1="213.60" y1="335.50" x2="217.50" y2="335.50" stroke="#151515" stroke-width="1.15"/>
<text transform="translate(212.50 338.47) scale(1 1.1)" font-size="8.0" font-weight="bold" text-anchor="end" fill="#111" stroke="#111" stroke-width="0.36"  >5</text>
<line x1="213.60" y1="310.50" x2="217.50" y2="310.50" stroke="#151515" stroke-width="1.15"/>
<text transform="translate(212.50 313.25) scale(1 1.1)" font-size="8.0" font-weight="bold" text-anchor="end" fill="#111" stroke="#111" stroke-width="0.36"  >10</text>
<line x1="213.60" y1="284.50" x2="217.50" y2="284.50" stroke="#151515" stroke-width="1.15"/>
<text transform="translate(212.50 288.03) scale(1 1.1)" font-size="8.0" font-weight="bold" text-anchor="end" fill="#111" stroke="#111" stroke-width="0.36"  >15</text>
<line x1="213.60" y1="259.50" x2="217.50" y2="259.50" stroke="#151515" stroke-width="1.15"/>
<text transform="translate(212.50 262.80) scale(1 1.1)" font-size="8.0" font-weight="bold" text-anchor="end" fill="#111" stroke="#111" stroke-width="0.36"  >20</text>
<line x1="231.50" y1="360.50" x2="231.50" y2="365.00" stroke="#151515" stroke-width="1.15"/>
<text transform="translate(231.70 373.40) scale(1 1.1)" font-size="8.0" font-weight="bold" text-anchor="middle" fill="#111" stroke="#111" stroke-width="0.36"  >Ex1</text>
<line x1="260.50" y1="360.50" x2="260.50" y2="365.00" stroke="#151515" stroke-width="1.15"/>
<text transform="translate(260.35 373.40) scale(1 1.1)" font-size="8.0" font-weight="bold" text-anchor="middle" fill="#111" stroke="#111" stroke-width="0.36"  >Ex4</text>
<line x1="289.50" y1="360.50" x2="289.50" y2="365.00" stroke="#151515" stroke-width="1.15"/>
<text transform="translate(289.00 373.40) scale(1 1.1)" font-size="8.0" font-weight="bold" text-anchor="middle" fill="#111" stroke="#111" stroke-width="0.36"  >Int4/5</text>
<line x1="317.50" y1="360.50" x2="317.50" y2="365.00" stroke="#151515" stroke-width="1.15"/>
<text transform="translate(317.65 373.40) scale(1 1.1)" font-size="8.0" font-weight="bold" text-anchor="middle" fill="#111" stroke="#111" stroke-width="0.36"  >Ex5</text>
<line x1="346.50" y1="360.50" x2="346.50" y2="365.00" stroke="#151515" stroke-width="1.15"/>
<text transform="translate(346.30 373.40) scale(1 1.1)" font-size="8.0" font-weight="bold" text-anchor="middle" fill="#111" stroke="#111" stroke-width="0.36"  >Ex6</text>
<text x="293.20" y="389.00" font-size="8.5" font-weight="normal" text-anchor="middle" fill="#111" stroke="#111" stroke-width="0.3"  >Position along the gene</text>
<path d="M231.70 354.45 V355.96 M229.80 354.45 H233.60 M229.80 355.96 H233.60" stroke="#2447ee" stroke-width="1.2" fill="none" opacity="0.9"/>
<path d="M260.35 346.88 V347.89 M258.45 346.88 H262.25 M258.45 347.89 H262.25" stroke="#2447ee" stroke-width="1.2" fill="none" opacity="0.9"/>
<path d="M289.00 347.89 V348.90 M287.10 347.89 H290.90 M287.10 348.90 H290.90" stroke="#2447ee" stroke-width="1.2" fill="none" opacity="0.9"/>
<path d="M317.65 348.90 V349.91 M315.75 348.90 H319.55 M315.75 349.91 H319.55" stroke="#2447ee" stroke-width="1.2" fill="none" opacity="0.9"/>
<path d="M346.30 326.95 V328.46 M344.40 326.95 H348.20 M344.40 328.46 H348.20" stroke="#2447ee" stroke-width="1.2" fill="none" opacity="0.9"/>
<polyline points="231.70,355.20 260.35,347.38 289.00,348.39 317.65,349.40 346.30,327.71" fill="none" stroke="#2447ee" stroke-width="1.35" stroke-linejoin="round"/>
<circle cx="231.70" cy="355.20" r="1.65" fill="#2447ee"/>
<circle cx="260.35" cy="347.38" r="1.65" fill="#2447ee"/>
<circle cx="289.00" cy="348.39" r="1.65" fill="#2447ee"/>
<circle cx="317.65" cy="349.40" r="1.65" fill="#2447ee"/>
<circle cx="346.30" cy="327.71" r="1.65" fill="#2447ee"/>
<path d="M231.70 345.87 V351.92 M229.80 345.87 H233.60 M229.80 351.92 H233.60" stroke="#f0452c" stroke-width="1.2" fill="none" opacity="0.9"/>
<path d="M260.35 324.43 V329.47 M258.45 324.43 H262.25 M258.45 329.47 H262.25" stroke="#f0452c" stroke-width="1.2" fill="none" opacity="0.9"/>
<path d="M289.00 329.22 V336.28 M287.10 329.22 H290.90 M287.10 336.28 H290.90" stroke="#f0452c" stroke-width="1.2" fill="none" opacity="0.9"/>
<path d="M317.65 338.05 V342.59 M315.75 338.05 H319.55 M315.75 342.59 H319.55" stroke="#f0452c" stroke-width="1.2" fill="none" opacity="0.9"/>
<path d="M346.30 263.89 V271.96 M344.40 263.89 H348.20 M344.40 271.96 H348.20" stroke="#f0452c" stroke-width="1.2" fill="none" opacity="0.9"/>
<polyline points="231.70,348.90 260.35,326.95 289.00,332.75 317.65,340.32 346.30,267.92" fill="none" stroke="#f0452c" stroke-width="1.2" stroke-linejoin="round"/>
<rect x="230.20" y="347.40" width="3" height="3" fill="#f0452c"/>
<rect x="258.85" y="325.45" width="3" height="3" fill="#f0452c"/>
<rect x="287.50" y="331.25" width="3" height="3" fill="#f0452c"/>
<rect x="316.15" y="338.82" width="3" height="3" fill="#f0452c"/>
<rect x="344.80" y="266.42" width="3" height="3" fill="#f0452c"/>
<path d="M231.70 352.43 V353.44 M229.80 352.43 H233.60 M229.80 353.44 H233.60" stroke="#3b8c2f" stroke-width="1.2" fill="none" opacity="0.9"/>
<path d="M260.35 347.38 V348.39 M258.45 347.38 H262.25 M258.45 348.39 H262.25" stroke="#3b8c2f" stroke-width="1.2" fill="none" opacity="0.9"/>
<path d="M289.00 347.89 V348.90 M287.10 347.89 H290.90 M287.10 348.90 H290.90" stroke="#3b8c2f" stroke-width="1.2" fill="none" opacity="0.9"/>
<path d="M317.65 354.95 V355.96 M315.75 354.95 H319.55 M315.75 355.96 H319.55" stroke="#3b8c2f" stroke-width="1.2" fill="none" opacity="0.9"/>
<path d="M346.30 342.34 V343.35 M344.40 342.34 H348.20 M344.40 343.35 H348.20" stroke="#3b8c2f" stroke-width="1.2" fill="none" opacity="0.9"/>
<polyline points="231.70,352.93 260.35,347.89 289.00,348.39 317.65,355.45 346.30,342.84" fill="none" stroke="#3b8c2f" stroke-width="1.2" stroke-linejoin="round"/>
<path d="M231.70 351.03 L233.50 354.13 L229.90 354.13 Z" fill="#3b8c2f"/>
<path d="M260.35 345.99 L262.15 349.09 L258.55 349.09 Z" fill="#3b8c2f"/>
<path d="M289.00 346.49 L290.80 349.59 L287.20 349.59 Z" fill="#3b8c2f"/>
<path d="M317.65 353.56 L319.45 356.65 L315.85 356.65 Z" fill="#3b8c2f"/>
<path d="M346.30 340.94 L348.10 344.04 L344.50 344.04 Z" fill="#3b8c2f"/>
<path d="M231.70 351.92 V352.93 M229.80 351.92 H233.60 M229.80 352.93 H233.60" stroke="#8d3aa3" stroke-width="1.2" fill="none" opacity="0.9"/>
<path d="M260.35 332.25 V333.26 M258.45 332.25 H262.25 M258.45 333.26 H262.25" stroke="#8d3aa3" stroke-width="1.2" fill="none" opacity="0.9"/>
<path d="M289.00 336.79 V337.80 M287.10 336.79 H290.90 M287.10 337.80 H290.90" stroke="#8d3aa3" stroke-width="1.2" fill="none" opacity="0.9"/>
<path d="M317.65 336.28 V337.29 M315.75 336.28 H319.55 M315.75 337.29 H319.55" stroke="#8d3aa3" stroke-width="1.2" fill="none" opacity="0.9"/>
<path d="M346.30 274.99 V276.00 M344.40 274.99 H348.20 M344.40 276.00 H348.20" stroke="#8d3aa3" stroke-width="1.2" fill="none" opacity="0.9"/>
<polyline points="231.70,352.43 260.35,332.75 289.00,337.29 317.65,336.79 346.30,275.49" fill="none" stroke="#8d3aa3" stroke-width="1.2" stroke-linejoin="round"/>
<path d="M231.70 354.33 L233.50 351.23 L229.90 351.23 Z" fill="#8d3aa3"/>
<path d="M260.35 334.65 L262.15 331.55 L258.55 331.55 Z" fill="#8d3aa3"/>
<path d="M289.00 339.19 L290.80 336.09 L287.20 336.09 Z" fill="#8d3aa3"/>
<path d="M317.65 338.69 L319.45 335.59 L315.85 335.59 Z" fill="#8d3aa3"/>
<path d="M346.30 277.39 L348.10 274.29 L344.50 274.29 Z" fill="#8d3aa3"/>
<text x="361.80" y="252.00" font-size="8.6" font-weight="bold" text-anchor="start" fill="#111" stroke="#111" stroke-width="0.36"  >G</text>
<text transform="translate(471.50 259.60) scale(1 1.08)" font-size="8.4" font-weight="bold" text-anchor="middle" fill="#111" stroke="#111" stroke-width="0.36"  >AF9</text>
<path d="M394.10 257.55 V360.80 H547.70" fill="none" stroke="#151515" stroke-width="1.3"/>
<line x1="390.20" y1="360.50" x2="394.10" y2="360.50" stroke="#151515" stroke-width="1.15"/>
<text transform="translate(389.10 364.00) scale(1 1.1)" font-size="8.0" font-weight="bold" text-anchor="end" fill="#111" stroke="#111" stroke-width="0.36"  >0.0</text>
<line x1="390.20" y1="340.50" x2="394.10" y2="340.50" stroke="#151515" stroke-width="1.15"/>
<text transform="translate(389.10 343.46) scale(1 1.1)" font-size="8.0" font-weight="bold" text-anchor="end" fill="#111" stroke="#111" stroke-width="0.36"  >0.5</text>
<line x1="390.20" y1="319.50" x2="394.10" y2="319.50" stroke="#151515" stroke-width="1.15"/>
<text transform="translate(389.10 322.92) scale(1 1.1)" font-size="8.0" font-weight="bold" text-anchor="end" fill="#111" stroke="#111" stroke-width="0.36"  >1.0</text>
<line x1="390.20" y1="299.50" x2="394.10" y2="299.50" stroke="#151515" stroke-width="1.15"/>
<text transform="translate(389.10 302.38) scale(1 1.1)" font-size="8.0" font-weight="bold" text-anchor="end" fill="#111" stroke="#111" stroke-width="0.36"  >1.5</text>
<line x1="390.20" y1="278.50" x2="394.10" y2="278.50" stroke="#151515" stroke-width="1.15"/>
<text transform="translate(389.10 281.84) scale(1 1.1)" font-size="8.0" font-weight="bold" text-anchor="end" fill="#111" stroke="#111" stroke-width="0.36"  >2.0</text>
<line x1="390.20" y1="258.50" x2="394.10" y2="258.50" stroke="#151515" stroke-width="1.15"/>
<text transform="translate(389.10 261.30) scale(1 1.1)" font-size="8.0" font-weight="bold" text-anchor="end" fill="#111" stroke="#111" stroke-width="0.36"  >2.5</text>
<line x1="413.50" y1="360.80" x2="413.50" y2="365.30" stroke="#151515" stroke-width="1.15"/>
<text transform="translate(413.40 373.70) scale(1 1.1)" font-size="8.0" font-weight="bold" text-anchor="middle" fill="#111" stroke="#111" stroke-width="0.36"  >Ex1</text>
<line x1="442.50" y1="360.80" x2="442.50" y2="365.30" stroke="#151515" stroke-width="1.15"/>
<text transform="translate(442.20 373.70) scale(1 1.1)" font-size="8.0" font-weight="bold" text-anchor="middle" fill="#111" stroke="#111" stroke-width="0.36"  >Ex4</text>
<line x1="471.50" y1="360.80" x2="471.50" y2="365.30" stroke="#151515" stroke-width="1.15"/>
<text transform="translate(471.00 373.70) scale(1 1.1)" font-size="8.0" font-weight="bold" text-anchor="middle" fill="#111" stroke="#111" stroke-width="0.36"  >Int4/5</text>
<line x1="499.50" y1="360.80" x2="499.50" y2="365.30" stroke="#151515" stroke-width="1.15"/>
<text transform="translate(499.80 373.70) scale(1 1.1)" font-size="8.0" font-weight="bold" text-anchor="middle" fill="#111" stroke="#111" stroke-width="0.36"  >Ex5</text>
<line x1="528.50" y1="360.80" x2="528.50" y2="365.30" stroke="#151515" stroke-width="1.15"/>
<text transform="translate(528.60 373.70) scale(1 1.1)" font-size="8.0" font-weight="bold" text-anchor="middle" fill="#111" stroke="#111" stroke-width="0.36"  >Ex6</text>
<text x="473.90" y="389.30" font-size="8.5" font-weight="normal" text-anchor="middle" fill="#111" stroke="#111" stroke-width="0.3"  >Position along the gene</text>
<path d="M413.40 309.04 V325.47 M411.50 309.04 H415.30 M411.50 325.47 H415.30" stroke="#2447ee" stroke-width="1.2" fill="none" opacity="0.9"/>
<path d="M442.20 295.89 V312.33 M440.30 295.89 H444.10 M440.30 312.33 H444.10" stroke="#2447ee" stroke-width="1.2" fill="none" opacity="0.9"/>
<path d="M471.00 293.02 V313.56 M469.10 293.02 H472.90 M469.10 313.56 H472.90" stroke="#2447ee" stroke-width="1.2" fill="none" opacity="0.9"/>
<path d="M499.80 296.30 V308.63 M497.90 296.30 H501.70 M497.90 308.63 H501.70" stroke="#2447ee" stroke-width="1.2" fill="none" opacity="0.9"/>
<path d="M528.60 297.54 V315.61 M526.70 297.54 H530.50 M526.70 315.61 H530.50" stroke="#2447ee" stroke-width="1.2" fill="none" opacity="0.9"/>
<polyline points="413.40,317.26 442.20,304.11 471.00,303.29 499.80,302.47 528.60,306.57" fill="none" stroke="#2447ee" stroke-width="1.35" stroke-linejoin="round"/>
<circle cx="413.40" cy="317.26" r="1.65" fill="#2447ee"/>
<circle cx="442.20" cy="304.11" r="1.65" fill="#2447ee"/>
<circle cx="471.00" cy="303.29" r="1.65" fill="#2447ee"/>
<circle cx="499.80" cy="302.47" r="1.65" fill="#2447ee"/>
<circle cx="528.60" cy="306.57" r="1.65" fill="#2447ee"/>
<path d="M413.40 307.40 V342.72 M411.50 307.40 H415.30 M411.50 342.72 H415.30" stroke="#f0452c" stroke-width="1.2" fill="none" opacity="0.9"/>
<path d="M442.20 307.81 V327.53 M440.30 307.81 H444.10 M440.30 327.53 H444.10" stroke="#f0452c" stroke-width="1.2" fill="none" opacity="0.9"/>
<path d="M471.00 307.81 V329.17 M469.10 307.81 H472.90 M469.10 329.17 H472.90" stroke="#f0452c" stroke-width="1.2" fill="none" opacity="0.9"/>
<path d="M499.80 320.95 V347.24 M497.90 320.95 H501.70 M497.90 347.24 H501.70" stroke="#f0452c" stroke-width="1.2" fill="none" opacity="0.9"/>
<path d="M528.60 320.95 V342.31 M526.70 320.95 H530.50 M526.70 342.31 H530.50" stroke="#f0452c" stroke-width="1.2" fill="none" opacity="0.9"/>
<polyline points="413.40,325.06 442.20,317.67 471.00,318.49 499.80,334.10 528.60,331.63" fill="none" stroke="#f0452c" stroke-width="1.2" stroke-linejoin="round"/>
<rect x="411.90" y="323.56" width="3" height="3" fill="#f0452c"/>
<rect x="440.70" y="316.17" width="3" height="3" fill="#f0452c"/>
<rect x="469.50" y="316.99" width="3" height="3" fill="#f0452c"/>
<rect x="498.30" y="332.60" width="3" height="3" fill="#f0452c"/>
<rect x="527.10" y="330.13" width="3" height="3" fill="#f0452c"/>
<path d="M413.40 288.09 V307.81 M411.50 288.09 H415.30 M411.50 307.81 H415.30" stroke="#3b8c2f" stroke-width="1.2" fill="none" opacity="0.9"/>
<path d="M442.20 272.89 V289.32 M440.30 272.89 H444.10 M440.30 289.32 H444.10" stroke="#3b8c2f" stroke-width="1.2" fill="none" opacity="0.9"/>
<path d="M471.00 267.96 V289.32 M469.10 267.96 H472.90 M469.10 289.32 H472.90" stroke="#3b8c2f" stroke-width="1.2" fill="none" opacity="0.9"/>
<path d="M499.80 277.00 V294.25 M497.90 277.00 H501.70 M497.90 294.25 H501.70" stroke="#3b8c2f" stroke-width="1.2" fill="none" opacity="0.9"/>
<path d="M528.60 270.01 V288.09 M526.70 270.01 H530.50 M526.70 288.09 H530.50" stroke="#3b8c2f" stroke-width="1.2" fill="none" opacity="0.9"/>
<polyline points="413.40,297.95 442.20,281.10 471.00,278.64 499.80,285.62 528.60,279.05" fill="none" stroke="#3b8c2f" stroke-width="1.2" stroke-linejoin="round"/>
<path d="M413.40 296.05 L415.20 299.15 L411.60 299.15 Z" fill="#3b8c2f"/>
<path d="M442.20 279.20 L444.00 282.30 L440.40 282.30 Z" fill="#3b8c2f"/>
<path d="M471.00 276.74 L472.80 279.84 L469.20 279.84 Z" fill="#3b8c2f"/>
<path d="M499.80 283.72 L501.60 286.82 L498.00 286.82 Z" fill="#3b8c2f"/>
<path d="M528.60 277.15 L530.40 280.25 L526.80 280.25 Z" fill="#3b8c2f"/>
<path d="M413.40 297.54 V317.26 M411.50 297.54 H415.30 M411.50 317.26 H415.30" stroke="#4f2b92" stroke-width="1.2" fill="none" opacity="0.9"/>
<path d="M442.20 281.52 V306.16 M440.30 281.52 H444.10 M440.30 306.16 H444.10" stroke="#4f2b92" stroke-width="1.2" fill="none" opacity="0.9"/>
<path d="M471.00 286.03 V313.15 M469.10 286.03 H472.90 M469.10 313.15 H472.90" stroke="#4f2b92" stroke-width="1.2" fill="none" opacity="0.9"/>
<path d="M499.80 296.72 V327.11 M497.90 296.72 H501.70 M497.90 327.11 H501.70" stroke="#4f2b92" stroke-width="1.2" fill="none" opacity="0.9"/>
<path d="M528.60 270.01 V304.52 M526.70 270.01 H530.50 M526.70 304.52 H530.50" stroke="#4f2b92" stroke-width="1.2" fill="none" opacity="0.9"/>
<polyline points="413.40,307.40 442.20,293.84 471.00,299.59 499.80,311.91 528.60,287.27" fill="none" stroke="#4f2b92" stroke-width="1.2" stroke-linejoin="round"/>
<path d="M413.40 309.30 L415.20 306.20 L411.60 306.20 Z" fill="#4f2b92"/>
<path d="M442.20 295.74 L444.00 292.64 L440.40 292.64 Z" fill="#4f2b92"/>
<path d="M471.00 301.49 L472.80 298.39 L469.20 298.39 Z" fill="#4f2b92"/>
<path d="M499.80 313.81 L501.60 310.71 L498.00 310.71 Z" fill="#4f2b92"/>
<path d="M528.60 289.17 L530.40 286.07 L526.80 286.07 Z" fill="#4f2b92"/>
</svg>
</body></html>
